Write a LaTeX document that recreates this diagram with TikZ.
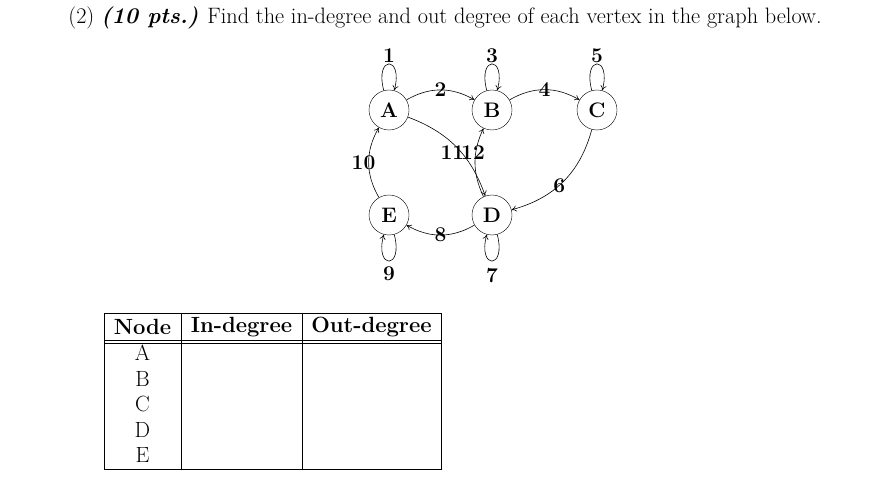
\documentclass[tikz,border=0pt]{standalone}
\usepackage{fontspec}
\usetikzlibrary{arrows.meta}
\begin{document}
\begin{tikzpicture}[x=1pt,y=-1pt,
  vtx/.style={draw,circle,minimum size=40pt,inner sep=0pt,font=\fontsize{21}{24}\selectfont\bfseries},
  lbl/.style={font=\fontsize{21}{24}\selectfont\bfseries,inner sep=1pt},
  arr/.style={draw,->,>={To[length=5pt,width=6pt]},line width=0.6pt},
  cell/.style={font=\fontsize{22}{26}\selectfont,inner sep=0pt}]
\useasboundingbox (0,0) rectangle (896,478);
\node[font=\fontsize{22.3}{26}\selectfont] (title) at (445,18) {(2) \textit{\textbf{(10 pts.)}} Find the in-degree and out degree of each vertex in the graph below.};
\node[vtx] (A) at (389,110) {A};
\node[vtx] (B) at (492,110) {B};
\node[vtx] (C) at (597,110) {C};
\node[vtx] (D) at (492,215) {D};
\node[vtx] (E) at (389,215) {E};
\draw[arr] (A) to[out=105,in=75,looseness=9] node[lbl,above]{1} (A);
\draw[arr] (B) to[out=105,in=75,looseness=9] node[lbl,above]{3} (B);
\draw[arr] (C) to[out=105,in=75,looseness=9] node[lbl,above]{5} (C);
\draw[arr] (D) to[out=-75,in=-105,looseness=9] node[lbl,below,yshift=-6pt]{7} (D);
\draw[arr] (E) to[out=-75,in=-105,looseness=9] node[lbl,below,yshift=-4pt]{9} (E);
\draw[arr] (A) to[bend left=30] node[lbl,pos=0.5]{2} (B);
\draw[arr] (B) to[bend left=30] node[lbl,pos=0.5]{4} (C);
\draw[arr] (C) to[bend left=30] node[lbl,pos=0.55]{6} (D);
\draw[arr] (D) to[bend left=30] node[lbl,pos=0.5]{8} (E);
\draw[arr] (E) to[bend left=30] node[lbl,pos=0.5,left=-8pt]{10} (A);
\draw[arr] (A) to[bend left=25] node[lbl,pos=0.5,xshift=-4pt,yshift=-6pt]{11} (D);
\draw[arr] (D) to[bend left=25] node[lbl,pos=0.5,xshift=-2pt,yshift=10pt]{12} (B);
% table
\coordinate (t1) at (104,313); \coordinate (t2) at (441,469);
\draw[line width=0.8pt] (t1) rectangle (t2);
\draw[line width=0.6pt] (104,340) -- (441,340);
\draw[line width=0.6pt] (104,343) -- (441,343);
\draw[line width=0.6pt] (181,313) -- (181,469);
\draw[line width=0.6pt] (302,313) -- (302,469);
\node[cell,font=\fontsize{22}{26}\selectfont\bfseries] (h1) at (142.5,327) {Node};
\node[cell,font=\fontsize{22}{26}\selectfont\bfseries] (h2) at (241.5,327) {In-degree};
\node[cell,font=\fontsize{22}{26}\selectfont\bfseries] (h3) at (371.5,327) {Out-degree};
\node[cell] (rA) at (142.5,353) {A};
\node[cell] (rB) at (142.5,379) {B};
\node[cell] (rC) at (142.5,404) {C};
\node[cell] (rD) at (142.5,430) {D};
\node[cell] (rE) at (142.5,455) {E};
\end{tikzpicture}
\end{document}
